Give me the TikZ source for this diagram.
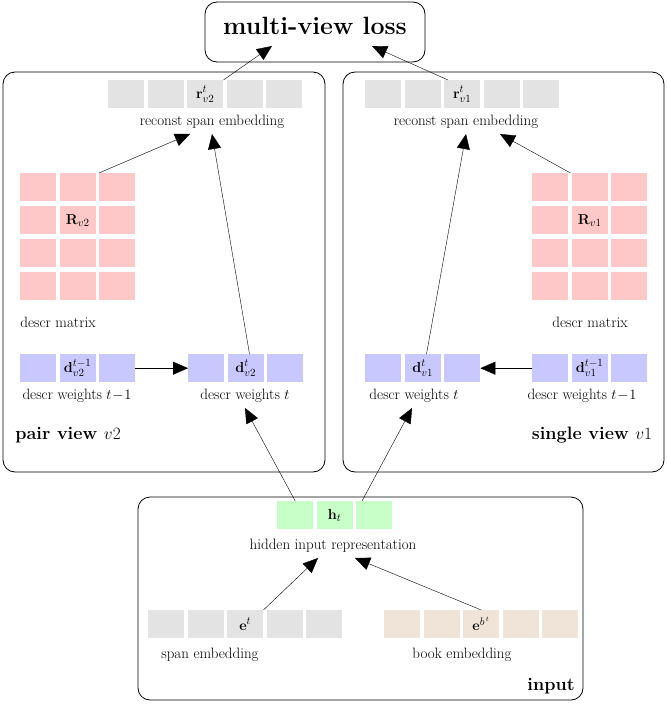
\documentclass[tikz,border=0pt]{standalone}
\usepackage{amsmath,amssymb}
\usepackage{tikz}
\usetikzlibrary{arrows.meta}
\definecolor{cgray}{HTML}{E3E3E3}
\definecolor{cred}{HTML}{FFC8C8}
\definecolor{cblue}{HTML}{C8C8FF}
\definecolor{cgreen}{HTML}{C8FFC8}
\definecolor{ctan}{HTML}{F0E4D8}
\newcommand{\cellrow}[5]{% name, x, y, n, colour
  \foreach \i in {1,...,#4}
    \node[cell,fill=#5,name=#1-\i] at ({#2+(\i-1)*39.5},#3) {};}
\newcommand{\midsize}{\fontsize{15}{18}\selectfont}
\begin{document}
\begin{tikzpicture}[x=1pt,y=-1pt,
  every node/.style={font=\midsize},
  cell/.style={anchor=north west,minimum width=36pt,minimum height=28pt,inner sep=0pt},
  box/.style={draw,thick,rounded corners=12pt},
  lbl/.style={inner sep=1pt},
  big/.style={inner sep=1pt,font=\fontsize{18}{21}\selectfont\bfseries},
  arr/.style={-{Triangle[width=13pt,length=15pt]},thin}]
  \useasboundingbox (0,0) rectangle (668,704);
  %boxes
  \draw[box] (205,2) rectangle (425,62);
  \node[font=\fontsize{25}{29}\selectfont\bfseries] (loss) at (315,26) {multi-view loss};
  \draw[box] (3,72) rectangle (325,472);
  \draw[box] (343,72) rectangle (664,472);
  \draw[box] (138,497) rectangle (583,700);
  \node[big] at (68,435) {pair view $v2$};
  \node[big] at (592,435) {single view $v1$};
  \node[big] at (551,686) {input};

  %left
  \cellrow{rb}{108}{80}{5}{cgray}
  \node at (rb-3) {$\mathbf{r}^{t}_{v2}$};
  \node[lbl] (rbl) at (212,122) {reconst span embedding};
  \foreach \r in {0,...,3}{\cellrow{Rb\r}{20}{173+\r*33}{3}{cred}}
  \node at (Rb1-2) {$\mathbf{R}_{v2}$};
  \node[lbl] at (58,322) {descr matrix};
  \cellrow{db}{20}{354}{3}{cblue}
  \node at (db-2) {$\mathbf{d}^{t-1}_{v2}$};
  \node[lbl] at (77,396) {descr weights $t\!-\!1$};
  \cellrow{tb}{188}{354}{3}{cblue}
  \node at (tb-2) {$\mathbf{d}^{t}_{v2}$};
  \node[lbl] (tbl) at (245,396) {descr weights $t$};

  %right
  \cellrow{ra}{365}{80}{5}{cgray}
  \node at (ra-3) {$\mathbf{r}^{t}_{v1}$};
  \node[lbl] (ral) at (466,122) {reconst span embedding};
  \foreach \r in {0,...,3}{\cellrow{Ra\r}{532}{173+\r*33}{3}{cred}}
  \node at (Ra1-2) {$\mathbf{R}_{v1}$};
  \node[lbl] at (590,322) {descr matrix};
  \cellrow{ta}{365}{354}{3}{cblue}
  \node at (ta-2) {$\mathbf{d}^{t}_{v1}$};
  \node[lbl] (tal) at (414,396) {descr weights $t$};
  \cellrow{da}{532}{354}{3}{cblue}
  \node at (da-2) {$\mathbf{d}^{t-1}_{v1}$};
  \node[lbl] at (582,396) {descr weights $t\!-\!1$};

  %input
  \cellrow{h}{277}{501}{3}{cgreen}
  \node at (h-2) {$\mathbf{h}_{t}$};
  \node[lbl] (hl) at (333,546) {hidden input representation};
  \cellrow{e}{148}{610}{5}{cgray}
  \node at (e-3) {$\mathbf{e}^{t}$};
  \node[lbl] at (210,655) {span embedding};
  \cellrow{b}{384}{610}{5}{ctan}
  \node at (b-3) {$\mathbf{e}^{b^{\,t}}$};
  \node[lbl] at (462,655) {book embedding};

  %arrows
  \coordinate (lossL) at (272,46);
  \coordinate (lossR) at (372,46);
  \coordinate (rblL) at (190,134);
  \coordinate (rblR) at (212,134);
  \coordinate (ralL) at (466,134);
  \coordinate (ralR) at (500,134);
  \coordinate (tblT) at (245,408);
  \coordinate (talT) at (412,408);
  \coordinate (hlL) at (318,558);
  \coordinate (hlR) at (355,558);
  \draw[arr] (rb-3.north east) -- (lossL);
  \draw[arr] ([xshift=4pt]ra-3.north west) -- (lossR);
  \draw[arr] (Rb0-3.north west) -- (rblL);
  \draw[arr] ([xshift=22pt]tb-2.north west) -- (rblR);
  \draw[arr] (db-3.east) -- (tb-1.west);
  \draw[arr] ([xshift=22pt]ta-2.north west) -- (ralL);
  \draw[arr] ([xshift=2pt]Ra0-1.north east) -- (ralR);
  \draw[arr] (da-1.west) -- (ta-3.east);
  \draw[arr] (h-1.north) -- (tblT);
  \draw[arr] ([xshift=6pt]h-3.north west) -- (talT);
  \draw[arr] (e-3.north east) -- (hlL);
  \draw[arr] (b-3.north) -- (hlR);
\end{tikzpicture}
\end{document}
